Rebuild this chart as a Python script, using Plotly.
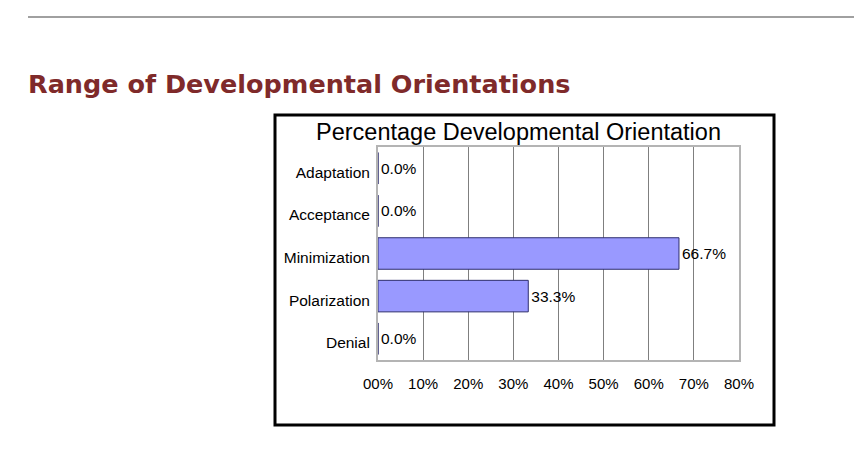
import plotly.graph_objects as go

# data
categories = ["Adaptation", "Acceptance", "Minimization", "Polarization", "Denial"]
percentages = [0.0, 0.0, 66.7, 33.3, 0.0]
tick_values = [0, 10, 20, 30, 40, 50, 60, 70, 80]
tick_labels = ["00%", "10%", "20%", "30%", "40%", "50%", "60%", "70%", "80%"]

W, H = 862, 463
OFF = 8  # page body margin the figure sits in


def px_x(x):
	return (x - OFF) / W


def px_y(y):
	return 1 - (y - OFF) / H


fig = go.Figure()
fig.add_trace(go.Bar(
	x=percentages,
	y=categories,
	orientation="h",
	marker=dict(color="#9999ff", line=dict(color="#2e2e6e", width=1)),
	text=["%.1f%%" % v for v in percentages],
	textposition="outside",
	textfont=dict(size=15.5, color="black", family="Liberation Sans"),
	cliponaxis=False,
	hoverinfo="skip",
))

fig.update_layout(
	width=W, height=H,
	margin=dict(l=0, r=0, t=0, b=0, pad=0, autoexpand=False),
	paper_bgcolor="white",
	plot_bgcolor="white",
	showlegend=False,
	bargap=0.26,
	font=dict(family="Liberation Sans", size=15, color="black"),
)

fig.update_xaxes(
	domain=[px_x(378), px_x(739)],
	range=[0, 80],
	tickvals=tick_values,
	ticktext=tick_labels,
	showgrid=True, gridcolor="#7f7f7f", gridwidth=1,
	showline=True, linecolor="#b4b4b4", linewidth=2, mirror=True,
	zeroline=False,
	ticks="outside", ticklen=9, tickcolor="rgba(0,0,0,0)",
	tickfont=dict(size=15),
	automargin=False,
	fixedrange=True,
)
fig.update_yaxes(
	domain=[px_y(360), px_y(147)],
	autorange="reversed",
	showgrid=False,
	showline=True, linecolor="#b4b4b4", linewidth=2, mirror=True,
	ticks="outside", ticklen=3, tickcolor="rgba(0,0,0,0)",
	ticklabelshift=-4,
	tickfont=dict(size=15.5),
	automargin=False,
	fixedrange=True,
)

# slide rule line at top
fig.add_shape(type="line", xref="paper", yref="paper",
			  x0=px_x(28), x1=1, y0=px_y(17), y1=px_y(17),
			  line=dict(color="#808080", width=1.5))

# chart frame
fig.add_shape(type="rect", xref="paper", yref="paper",
			  x0=px_x(275), x1=px_x(774), y0=px_y(425), y1=px_y(115),
			  line=dict(color="black", width=3))

# slide heading
fig.add_annotation(text="<b>Range of Developmental Orientations</b>",
				   xref="paper", yref="paper", x=px_x(26), y=px_y(84),
				   xanchor="left", yanchor="middle", showarrow=False,
				   font=dict(size=25.5, color="#7f2a2a", family="DejaVu Sans"))

# chart title
fig.add_annotation(text="Percentage Developmental Orientation",
				   xref="paper", yref="paper", x=px_x(518), y=px_y(132),
				   xanchor="center", yanchor="middle", showarrow=False,
				   font=dict(size=23.5, color="black", family="Liberation Sans"))

fig.write_html("out.html")
